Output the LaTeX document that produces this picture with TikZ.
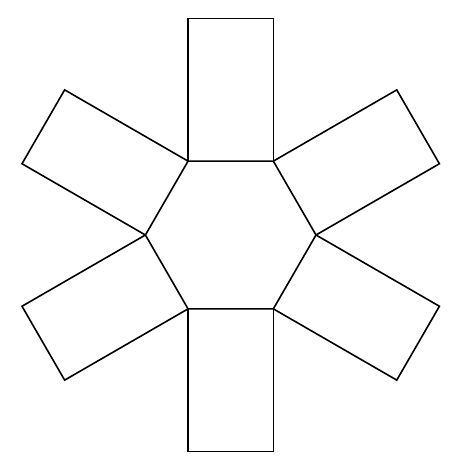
\documentclass[tikz,border=0pt]{standalone}
\usetikzlibrary{calc}
\begin{document}
\begin{tikzpicture}[x=1pt,y=1pt,edge/.style={line width=1.6pt,line join=miter}]
\useasboundingbox (0,0) rectangle (474,475);
\coordinate (C) at (230.7,240);
\def\a{85.3}
\def\L{142.5}
\foreach \k in {0,...,5}{
  \coordinate (V\k) at ($(C)+({60*\k}:\a)$);
}
\draw[edge] (V0) -- (V1) -- (V2) -- (V3) -- (V4) -- (V5) -- cycle;
\foreach \k/\n in {0/1,1/2,2/3,3/4,4/5,5/0}{
  \draw[edge] (V\k) -- ($(V\k)+({60*\k+30}:\L)$) -- ($(V\n)+({60*\k+30}:\L)$) -- (V\n);
}
\end{tikzpicture}
\end{document}
